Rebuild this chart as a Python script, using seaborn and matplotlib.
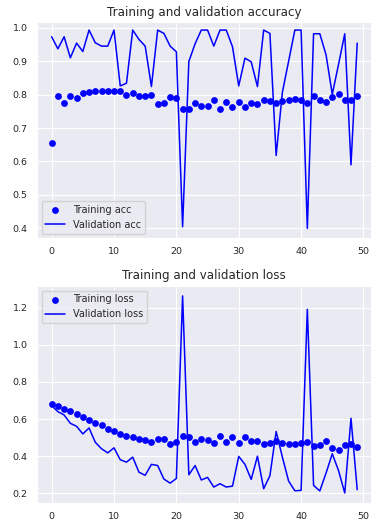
import numpy as np
import seaborn as sns
import matplotlib
matplotlib.use("Agg")
import matplotlib.pyplot as plt

epochs = list(range(50))

train_acc = [0.655, 0.795, 0.774, 0.796, 0.789, 0.806, 0.807, 0.810, 0.812, 0.812,
             0.812, 0.810, 0.798, 0.805, 0.796, 0.796, 0.799, 0.772, 0.775, 0.792,
             0.789, 0.756, 0.758, 0.774, 0.766, 0.766, 0.784, 0.756, 0.778, 0.762,
             0.777, 0.763, 0.774, 0.772, 0.783, 0.780, 0.775, 0.780, 0.783, 0.786,
             0.783, 0.774, 0.796, 0.783, 0.777, 0.792, 0.801, 0.783, 0.785, 0.795]

val_acc = [0.973, 0.937, 0.973, 0.910, 0.954, 0.929, 0.993, 0.955, 0.945, 0.945,
           0.993, 0.826, 0.834, 0.993, 0.965, 0.945, 0.824, 0.993, 0.983, 0.945,
           0.928, 0.405, 0.899, 0.952, 0.993, 0.993, 0.945, 0.993, 0.993, 0.943,
           0.826, 0.909, 0.898, 0.824, 0.993, 0.983, 0.618, 0.807, 0.900, 0.993,
           0.993, 0.400, 0.982, 0.982, 0.919, 0.801, 0.890, 0.982, 0.590, 0.954]

train_loss = [0.681, 0.670, 0.656, 0.645, 0.628, 0.613, 0.595, 0.581, 0.567, 0.549,
              0.535, 0.522, 0.511, 0.502, 0.495, 0.488, 0.477, 0.493, 0.490, 0.467,
              0.477, 0.509, 0.502, 0.477, 0.492, 0.488, 0.472, 0.509, 0.477, 0.506,
              0.472, 0.501, 0.483, 0.483, 0.467, 0.472, 0.483, 0.472, 0.467, 0.468,
              0.472, 0.477, 0.456, 0.461, 0.483, 0.445, 0.433, 0.461, 0.467, 0.452]

val_loss = [0.672, 0.640, 0.622, 0.577, 0.561, 0.520, 0.552, 0.475, 0.440, 0.418,
            0.445, 0.381, 0.368, 0.395, 0.314, 0.297, 0.356, 0.350, 0.277, 0.255,
            0.280, 1.263, 0.300, 0.350, 0.272, 0.286, 0.234, 0.252, 0.234, 0.239,
            0.399, 0.356, 0.275, 0.400, 0.225, 0.295, 0.533, 0.395, 0.266, 0.214,
            0.216, 1.191, 0.243, 0.213, 0.309, 0.413, 0.323, 0.202, 0.604, 0.220]


def draw(ax, train, val, name, title):
    sns.scatterplot(x=epochs, y=train, ax=ax, color="blue", s=24, linewidth=0,
                    label=f"Training {name}", zorder=3)
    sns.lineplot(x=epochs, y=val, ax=ax, color="blue", linewidth=1.1,
                 label=f"Validation {name}")
    ax.set_title(title, fontsize=8.6, color="#262626", pad=4.5)
    ax.tick_params(labelsize=6.8, colors="#262626", pad=3)
    ax.set_xticks([0, 10, 20, 30, 40, 50])


sns.set_style("darkgrid")
plt.rcParams["font.family"] = ["DejaVu Sans"]

fig = plt.figure(figsize=(3.84, 5.31), dpi=100)
ax1 = fig.add_axes([0.0955, 0.551, 0.8705, 0.4075])
ax2 = fig.add_axes([0.0955, 0.0527, 0.8705, 0.4093])

draw(ax1, train_acc, val_acc, "acc", "Training and validation accuracy")
ax1.set_xlim(-2.4, 51.2)
ax1.set_ylim(0.37, 1.017)
ax1.set_yticks([0.4, 0.5, 0.6, 0.7, 0.8, 0.9, 1.0])
ax1.legend(loc="lower left", fontsize=7.0)

draw(ax2, train_loss, val_loss, "loss", "Training and validation loss")
ax2.set_xlim(-2.4, 51.2)
ax2.set_ylim(0.148, 1.318)
ax2.set_yticks([0.2, 0.4, 0.6, 0.8, 1.0, 1.2])
ax2.legend(loc="upper left", fontsize=7.0)

fig.savefig("out.png", dpi=100)
